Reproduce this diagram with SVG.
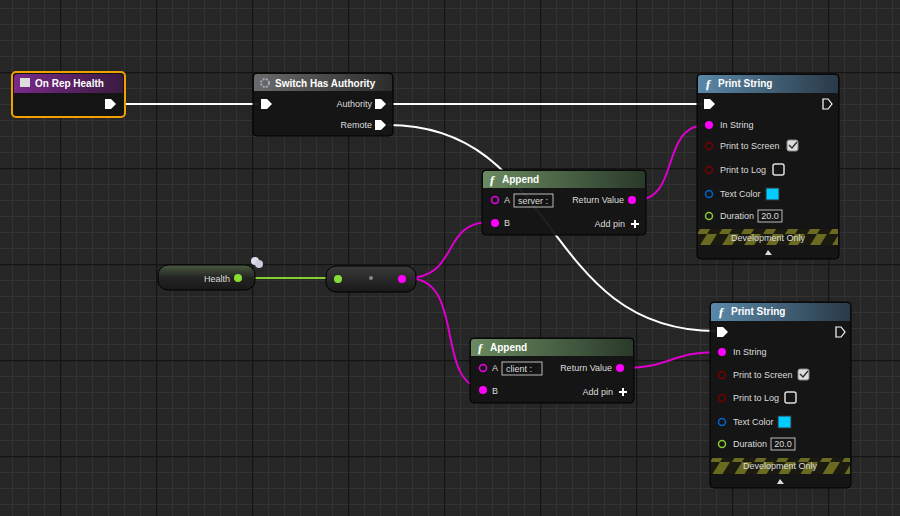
<svg xmlns="http://www.w3.org/2000/svg" width="900" height="516" viewBox="0 0 900 516">
<defs>
<pattern id="minor" width="16" height="16" patternUnits="userSpaceOnUse" x="12" y="8"><path d="M0 0.5H16M0.5 0V16" stroke="#333" stroke-width="1" fill="none"/></pattern>
<pattern id="major" width="96" height="96" patternUnits="userSpaceOnUse" x="60" y="72"><path d="M0 0.5H96M0.5 0V96" stroke="#141414" stroke-width="1.5" fill="none"/></pattern>
<linearGradient id="gP" x1="0" x2="1"><stop offset="0" stop-color="#7a2a8a"/><stop offset="1" stop-color="#3a1a40"/></linearGradient>
<linearGradient id="gG" x1="0" x2="1"><stop offset="0" stop-color="#6a6a6a"/><stop offset="1" stop-color="#2c2c2c"/></linearGradient>
<linearGradient id="gB" x1="0" x2="1"><stop offset="0" stop-color="#5a88a8"/><stop offset="1" stop-color="#2a3a48"/></linearGradient>
<linearGradient id="gA" x1="0" x2="1"><stop offset="0" stop-color="#6a8a60"/><stop offset="1" stop-color="#2a3a2a"/></linearGradient>
<linearGradient id="gPill" x1="0" y1="0" x2="0" y2="1"><stop offset="0" stop-color="#4a5a40"/><stop offset="0.5" stop-color="#232523"/><stop offset="1" stop-color="#181818"/></linearGradient>
<linearGradient id="gPill2" x1="0" y1="0" x2="0" y2="1"><stop offset="0" stop-color="#3a3a3a"/><stop offset="1" stop-color="#181818"/></linearGradient>
<pattern id="stripe" width="22" height="16" patternUnits="userSpaceOnUse"><rect width="22" height="16" fill="#1a1a10"/><path d="M0 16L10 0H20L10 16Z" fill="#6a6a20"/></pattern>
<path id="exec" d="M-5 -5H1L6 0L1 5H-5Z"/>
</defs>
<style>
.body{fill:#131413;fill-opacity:0.95;stroke:#000;stroke-width:1}
.t{font-family:"Liberation Sans",Arial,sans-serif;font-size:9px;fill:#ddd}
.h{font-family:"Liberation Sans",Arial,sans-serif;font-size:10px;font-weight:bold;fill:#fff}
.f{font-family:"Liberation Serif",serif;font-style:italic;font-weight:bold;font-size:13px;fill:#fff}
.ex{fill:#fff}
.exo{fill:none;stroke:#fff;stroke-width:1.2}
.pk{fill:#f0f}
.box{fill:none;stroke:#bbb;stroke-width:1}
.w{fill:none;stroke-width:2}
</style>
<rect width="900" height="516" fill="#262626"/>
<rect width="900" height="516" fill="url(#minor)"/>
<rect width="900" height="516" fill="url(#major)"/>

<g id="connectors">
<path class="w" stroke="#fff" d="M118 104H259"/>
<path class="w" stroke="#fff" d="M388 104H703"/>
<path class="w" stroke="#fff" d="M388 125C560 125 540 331 716 331"/>
<path class="w" stroke="#8c3" stroke-width="1.5" d="M243 278H334"/>
<path class="w" stroke="#d0c" stroke-width="1.5" d="M407 278C460 278 440 222 490 222"/>
<path class="w" stroke="#d0c" stroke-width="1.5" d="M407 278C470 278 430 390 490 390"/>
<path class="w" stroke="#d0c" stroke-width="1.5" d="M637 200C680 200 660 125 706 125"/>
<path class="w" stroke="#d0c" stroke-width="1.5" d="M625 368C670 368 670 352 719 352"/>
</g>

<g id="onRepHealth">
<rect x="12" y="72" width="113" height="45" rx="4" fill="#141414" stroke="#f0a000" stroke-width="2"/>
<path d="M14 93V78a4 4 0 0 1 4-4H119a4 4 0 0 1 4 4V93Z" fill="url(#gP)"/>
<rect x="20" y="78" width="10" height="9" fill="#ddd"/>
<text class="h" x="35" y="87">On Rep Health</text>
<use href="#exec" class="ex" x="110" y="104"/>
</g>

<g id="switchAuth">
<rect class="body" x="253" y="73" width="140" height="63" rx="4"/>
<path d="M254 91V77a3 3 0 0 1 3-3H389a3 3 0 0 1 3 3V91Z" fill="url(#gG)"/>
<circle cx="265" cy="83" r="4" fill="none" stroke="#9ab" stroke-width="2" stroke-dasharray="2 1.2"/>
<text class="h" x="275" y="87">Switch Has Authority</text>
<use href="#exec" class="ex" x="266" y="104"/>
<text class="t" x="372" y="107" text-anchor="end">Authority</text>
<use href="#exec" class="ex" x="380" y="104"/>
<text class="t" x="372" y="128" text-anchor="end">Remote</text>
<use href="#exec" class="ex" x="380" y="125"/>
</g>

<g id="printString1" transform="translate(697 74)">
<rect class="body" x="0" y="0" width="142" height="185" rx="4"/>
<path d="M1 19V4a3 3 0 0 1 3-3H138a3 3 0 0 1 3 3V19Z" fill="url(#gB)"/>
<text class="f" x="8" y="14">ƒ</text>
<text class="h" x="21" y="13">Print String</text>
<use href="#exec" class="ex" x="12" y="30"/>
<path class="exo" d="M126 25H131L135 30L131 35H126Z"/>
<circle class="pk" cx="12" cy="51" r="4"/><text class="t" x="23" y="54">In String</text>
<circle cx="12" cy="72" r="3.5" fill="none" stroke="#700" stroke-width="1.5"/><text class="t" x="23" y="75">Print to Screen</text>
<rect x="90" y="66" width="11" height="11" rx="2" fill="#ddd" stroke="#888"/><path d="M92 71l3 3 5-6" stroke="#333" stroke-width="1.5" fill="none"/>
<circle cx="12" cy="96" r="3.5" fill="none" stroke="#700" stroke-width="1.5"/><text class="t" x="23" y="99">Print to Log</text>
<rect x="76" y="90" width="11" height="11" rx="2" fill="none" stroke="#ddd" stroke-width="1.5"/>
<circle cx="12" cy="120" r="3.5" fill="none" stroke="#06c" stroke-width="1.5"/><text class="t" x="23" y="123">Text Color</text>
<rect x="69" y="114" width="13" height="12" fill="#0cf" stroke="#333"/>
<circle cx="12" cy="142" r="3.5" fill="none" stroke="#8c3" stroke-width="1.5"/><text class="t" x="23" y="145">Duration</text>
<rect x="61" y="136" width="24" height="12" class="box"/><text class="t" x="73" y="145" text-anchor="middle">20.0</text>
<rect x="1" y="155" width="140" height="16" fill="url(#stripe)"/>
<text class="t" x="71" y="167" text-anchor="middle">Development Only</text>
<path d="M68 181L71 176L75 181Z" fill="#ddd"/>
</g>

<g id="printString2" transform="translate(710 302)">
<rect class="body" x="0" y="0" width="141" height="186" rx="4"/>
<path d="M1 19V4a3 3 0 0 1 3-3H137a3 3 0 0 1 3 3V19Z" fill="url(#gB)"/>
<text class="f" x="8" y="14">ƒ</text>
<text class="h" x="21" y="13">Print String</text>
<use href="#exec" class="ex" x="12" y="30"/>
<path class="exo" d="M126 25H131L135 30L131 35H126Z"/>
<circle class="pk" cx="12" cy="50" r="4"/><text class="t" x="23" y="53">In String</text>
<circle cx="12" cy="73" r="3.5" fill="none" stroke="#700" stroke-width="1.5"/><text class="t" x="23" y="76">Print to Screen</text>
<rect x="88" y="67" width="11" height="11" rx="2" fill="#ddd" stroke="#888"/><path d="M90 72l3 3 5-6" stroke="#333" stroke-width="1.5" fill="none"/>
<circle cx="12" cy="96" r="3.5" fill="none" stroke="#700" stroke-width="1.5"/><text class="t" x="23" y="99">Print to Log</text>
<rect x="75" y="90" width="11" height="11" rx="2" fill="none" stroke="#ddd" stroke-width="1.5"/>
<circle cx="12" cy="120" r="3.5" fill="none" stroke="#06c" stroke-width="1.5"/><text class="t" x="23" y="123">Text Color</text>
<rect x="68" y="114" width="13" height="12" fill="#0cf" stroke="#333"/>
<circle cx="12" cy="142" r="3.5" fill="none" stroke="#8c3" stroke-width="1.5"/><text class="t" x="23" y="145">Duration</text>
<rect x="61" y="136" width="24" height="12" class="box"/><text class="t" x="73" y="145" text-anchor="middle">20.0</text>
<rect x="1" y="156" width="139" height="16" fill="url(#stripe)"/>
<text class="t" x="70" y="167" text-anchor="middle">Development Only</text>
<path d="M67 182L70 177L74 182Z" fill="#ddd"/>
</g>

<g id="append1" transform="translate(482 170)">
<rect class="body" x="0" y="0" width="164" height="65" rx="4"/>
<path d="M1 18V4a3 3 0 0 1 3-3H160a3 3 0 0 1 3 3V18Z" fill="url(#gA)"/>
<text class="f" x="7" y="14">ƒ</text>
<text class="h" x="20" y="13">Append</text>
<circle cx="13" cy="30" r="3.5" fill="none" stroke="#e0e" stroke-width="1.5"/><text class="t" x="22" y="33">A</text>
<rect x="32" y="24" width="39" height="13" class="box"/><text class="t" x="36" y="34">server :</text>
<circle class="pk" cx="13" cy="53" r="4"/><text class="t" x="22" y="56">B</text>
<text class="t" x="142" y="33" text-anchor="end">Return Value</text>
<circle class="pk" cx="150" cy="30" r="4"/>
<text class="t" x="143" y="57" text-anchor="end">Add pin</text>
<path d="M149 54h8M153 50v8" stroke="#fff" stroke-width="2"/>
</g>

<g id="append2" transform="translate(470 338)">
<rect class="body" x="0" y="0" width="164" height="65" rx="4"/>
<path d="M1 18V4a3 3 0 0 1 3-3H160a3 3 0 0 1 3 3V18Z" fill="url(#gA)"/>
<text class="f" x="7" y="14">ƒ</text>
<text class="h" x="20" y="13">Append</text>
<circle cx="13" cy="30" r="3.5" fill="none" stroke="#e0e" stroke-width="1.5"/><text class="t" x="22" y="33">A</text>
<rect x="32" y="24" width="40" height="13" class="box"/><text class="t" x="36" y="34">client  :</text>
<circle class="pk" cx="13" cy="52" r="4"/><text class="t" x="22" y="56">B</text>
<text class="t" x="142" y="33" text-anchor="end">Return Value</text>
<circle class="pk" cx="150" cy="30" r="4"/>
<text class="t" x="143" y="57" text-anchor="end">Add pin</text>
<path d="M149 54h8M153 50v8" stroke="#fff" stroke-width="2"/>
</g>

<g id="healthGet">
<rect x="158" y="265" width="97" height="25" rx="10" fill="url(#gPill)" stroke="#000"/>
<text class="t" x="230" y="282" text-anchor="end">Health</text>
<circle cx="238" cy="278" r="4" fill="#8d3"/>
<circle cx="255" cy="261" r="4" fill="#dde"/><circle cx="259" cy="264" r="4" fill="#ccd"/>
</g>

<g id="toString">
<rect x="326" y="266" width="90" height="26" rx="10" fill="url(#gPill2)" stroke="#000"/>
<circle cx="338" cy="279" r="4" fill="#8d3"/>
<circle cx="371" cy="278" r="2" fill="#888"/>
<circle cx="402" cy="279" r="4" class="pk"/>
</g>
</svg>
